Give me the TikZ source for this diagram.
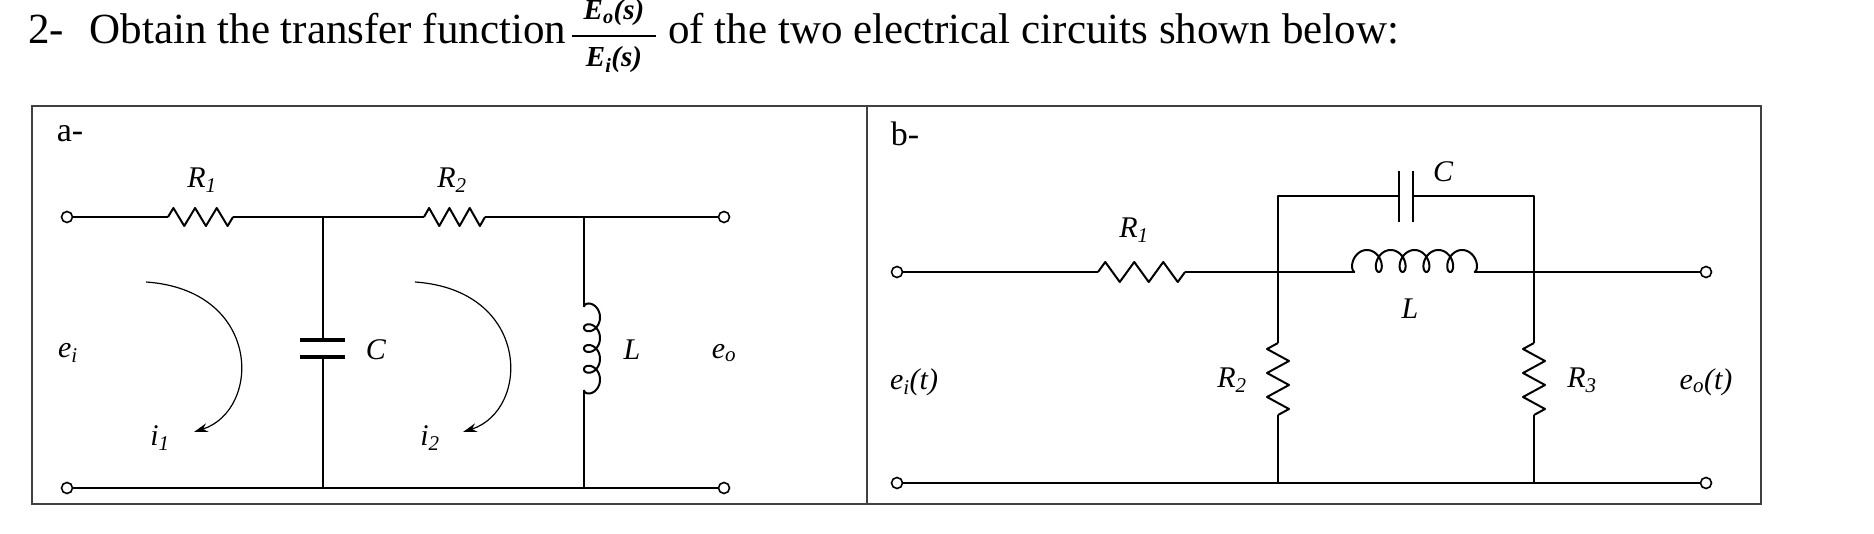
\documentclass[tikz,border=0pt]{standalone}
\usepackage{fontspec}
\setmainfont{Liberation Serif}
\usetikzlibrary{arrows.meta}
\tikzset{wire/.style={line width=2pt,line join=round},
 frame/.style={line width=1.3pt,draw=black!75},
 term/.style={circle,draw,line width=1.6pt,fill=white,minimum size=11pt,inner sep=0pt},
 lbl/.style={font=\fontsize{30}{30}\selectfont\itshape,inner sep=0pt},
 hd/.style={font=\fontsize{34}{34}\selectfont,inner sep=0pt},
 loop/.style={line width=1.2pt,-{Stealth[length=14pt,width=9pt]}}}
\newcommand\resH[4]{\draw[wire] (#1,#3) -- ++({(#2-#1)/12},-#4) -- ++({(#2-#1)/6},{2*#4}) -- ++({(#2-#1)/6},{-2*#4}) -- ++({(#2-#1)/6},{2*#4}) -- ++({(#2-#1)/6},{-2*#4}) -- ++({(#2-#1)/6},{2*#4}) -- ++({(#2-#1)/12},-#4);}
\newcommand\resV[4]{\draw[wire] (#3,#1) -- ++(-#4,{(#2-#1)/12}) -- ++({2*#4},{(#2-#1)/6}) -- ++({-2*#4},{(#2-#1)/6}) -- ++({2*#4},{(#2-#1)/6}) -- ++({-2*#4},{(#2-#1)/6}) -- ++({2*#4},{(#2-#1)/6}) -- ++(-#4,{(#2-#1)/12});}
\begin{document}
\begin{tikzpicture}[x=1pt,y=-1pt]
\useasboundingbox (0,0) rectangle (1874,534);
% title
\node[anchor=base west,font=\fontsize{43}{43}\selectfont,inner sep=0pt] (t1) at (28,44) {2-\hspace{0.6em}Obtain the transfer function};
\node[anchor=base west,font=\fontsize{43}{43}\selectfont,inner sep=0pt] (t2) at (668,44) {of the two electrical circuits shown below:};
\node[font=\fontsize{29}{29}\selectfont\bfseries\itshape,inner sep=0pt] (num) at (614,13) {E\textsubscript{o}(s)};
\node[font=\fontsize{29}{29}\selectfont\bfseries\itshape,inner sep=0pt] (den) at (614,60) {E\textsubscript{i}(s)};
\draw[line width=1.4pt] (572,36) -- (656,36);
% frames
\draw[frame] (32,106) rectangle (1761,504);
\draw[frame] (867,106) -- (867,504);
% ---- circuit a
\node[hd] (ha) at (70,134) {a-};
\node[term] (a1) at (67,217) {};
\node[term] (a2) at (724,217) {};
\node[term] (a3) at (67,488) {};
\node[term] (a4) at (724,488) {};
\coordinate (n1) at (323,217);
\coordinate (n2) at (584,217);
\coordinate (g1) at (323,488);
\coordinate (g2) at (584,488);
\draw[wire] (a1) -- (168,217); \resH{168}{233}{217}{9} \draw[wire] (233,217) -- (n1) -- (424,217);
\resH{424}{485}{217}{9} \draw[wire] (485,217) -- (n2) -- (a2);
\draw[wire] (a3) -- (g1) -- (g2) -- (a4);
\draw[wire] (n1) -- (323,340); \draw[wire] (323,357) -- (g1);
\draw[line width=3.5pt] (300,340) -- (345,340) (300,357) -- (345,357);
\draw[wire] (n2) -- (584,307);
\draw[wire] plot[domain=0:1440,samples=200,variable=\t] ({584+8*(1-cos(\t))},{307+83*(\t/1440)-8*sin(\t)});
\draw[wire] (584,390) -- (g2);
\node[lbl] (ra1) at (202,180) {R\textsubscript{1}};
\node[lbl] (ra2) at (452,180) {R\textsubscript{2}};
\node[lbl] (ca) at (376,350) {C};
\node[lbl] (la) at (632,350) {L};
\node[lbl] (ei) at (68,353) {e\textsubscript{i}};
\node[lbl] (eo) at (724,353) {e\textsubscript{o}};
\node[lbl] (i1) at (160,438) {i\textsubscript{1}};
\node[lbl] (i2) at (430,438) {i\textsubscript{2}};
\draw[loop] (146,282) .. controls (262,290) and (262,410) .. (194,432);
\draw[loop] (415,282) .. controls (531,290) and (531,410) .. (463,432);
% ---- circuit b
\node[hd] (hb) at (905,134) {b-};
\node[term] (b1) at (897,272) {};
\node[term] (b2) at (1706,272) {};
\node[term] (b3) at (897,483) {};
\node[term] (b4) at (1706,483) {};
\coordinate (m1) at (1278,272);
\coordinate (m2) at (1534,272);
\coordinate (h1) at (1278,483);
\coordinate (h2) at (1534,483);
\draw[wire] (b1) -- (1098,272); \resH{1098}{1185}{272}{10} \draw[wire] (1185,272) -- (m1) -- (1355,272);
\draw[wire] plot[domain=0:1800,samples=250,variable=\t] ({1355+119*(\t/1800)-8*sin(\t)},{272-11*(1-cos(\t))});
\draw[wire] (1474,272) -- (m2) -- (b2);
\draw[wire] (b3) -- (h1) -- (h2) -- (b4);
\draw[wire] (m1) -- (1278,196) -- (1399,196);
\draw[wire] (1413,196) -- (1534,196) -- (m2);
\draw[line width=2.4pt] (1399,171) -- (1399,222) (1413,171) -- (1413,222);
\draw[wire] (m1) -- (1278,343); \resV{343}{415}{1278}{11} \draw[wire] (1278,415) -- (h1);
\draw[wire] (m2) -- (1534,343); \resV{343}{415}{1534}{11} \draw[wire] (1534,415) -- (h2);
\node[lbl] (rb1) at (1134,230) {R\textsubscript{1}};
\node[lbl] (cb) at (1443,172) {C};
\node[lbl] (lb) at (1410,309) {L};
\node[lbl] (rb2) at (1232,380) {R\textsubscript{2}};
\node[lbl] (rb3) at (1582,380) {R\textsubscript{3}};
\node[lbl] (eit) at (914,382) {e\textsubscript{i}(t)};
\node[lbl] (eot) at (1706,382) {e\textsubscript{o}(t)};
\end{tikzpicture}
\end{document}
